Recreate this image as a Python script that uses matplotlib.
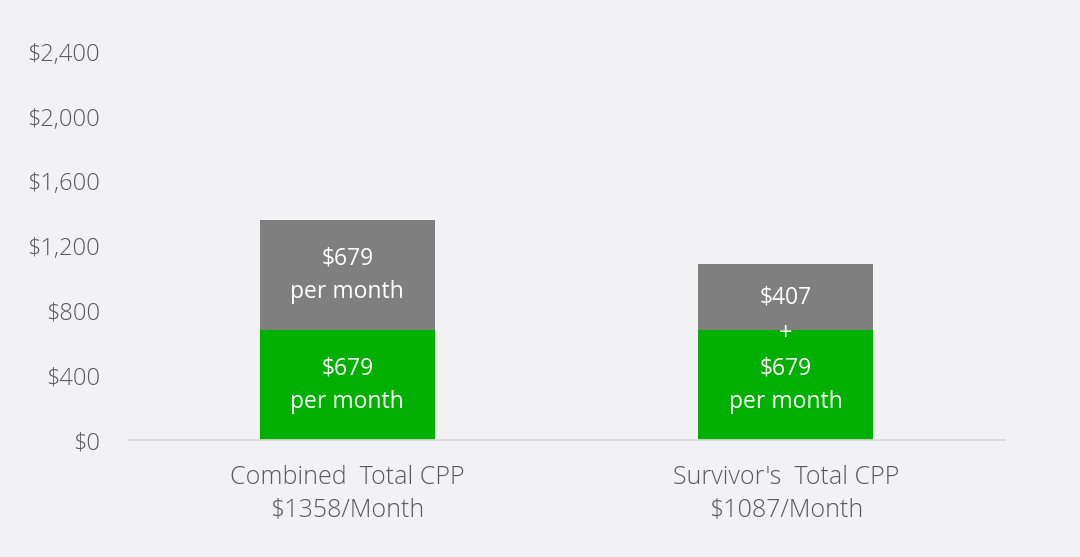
import matplotlib.pyplot as plt
from matplotlib import font_manager

# data
categories = ["Combined  Total CPP\n$1358/Month", "Survivor's  Total CPP\n$1087/Month"]
base_values = [679, 679]
top_values = [679, 407]
base_labels = ["$679\nper month", "$679\nper month"]
top_labels = ["$679\nper month", "$407"]
y_ticks = [0, 400, 800, 1200, 1600, 2000, 2400]

green = "#00b000"
grey = "#7f7f7f"
bg = "#f2f2f4"
text_grey = "#595959"

fams = {f.name for f in font_manager.fontManager.ttflist}
family = "Open Sans" if "Open Sans" in fams else "DejaVu Sans"
plt.rcParams["font.family"] = [family, "DejaVu Sans"]

fig = plt.figure(figsize=(10.8, 5.57), dpi=100, facecolor=bg)
ax = fig.add_axes([0.1185, 0.21, 0.812, 0.697])
ax.set_facecolor(bg)

x = list(range(len(categories)))
ax.bar(x, base_values, width=0.4, color=green, zorder=2)
ax.bar(x, top_values, width=0.4, bottom=base_values, color=grey, zorder=2)

for i in x:
    ax.text(i, base_values[i] / 2, base_labels[i], ha="center", va="center",
            color="white", fontsize=16.5, linespacing=1.5, zorder=3)
    ax.text(i, base_values[i] + top_values[i] / 2, top_labels[i], ha="center", va="center",
            color="white", fontsize=16.5, linespacing=1.5, zorder=3)

# plus sign between the two parts of the survivor bar
ax.annotate("+", xy=(1, base_values[1]), xytext=(0, -3), textcoords="offset points",
            ha="center", va="center", color="white", fontsize=17, zorder=3)

ax.set_xlim(-0.5, 1.5)
ax.set_ylim(0, 2400)
ax.set_yticks(y_ticks)
ax.set_yticklabels(["${:,}".format(v) for v in y_ticks])
ax.set_xticks(x)
ax.set_xticklabels(categories, linespacing=1.4)

for s in ["top", "right", "left"]:
    ax.spines[s].set_visible(False)
ax.spines["bottom"].set_color("#d9d9d9")
ax.spines["bottom"].set_linewidth(1.2)
ax.tick_params(axis="y", length=0, pad=20, labelsize=17, labelcolor=text_grey)
ax.tick_params(axis="x", length=0, pad=18, labelsize=18, labelcolor=text_grey)
for lab in ax.get_xticklabels() + ax.get_yticklabels():
    lab.set_fontweight("light")

fig.savefig("out.png", dpi=100, facecolor=bg)
